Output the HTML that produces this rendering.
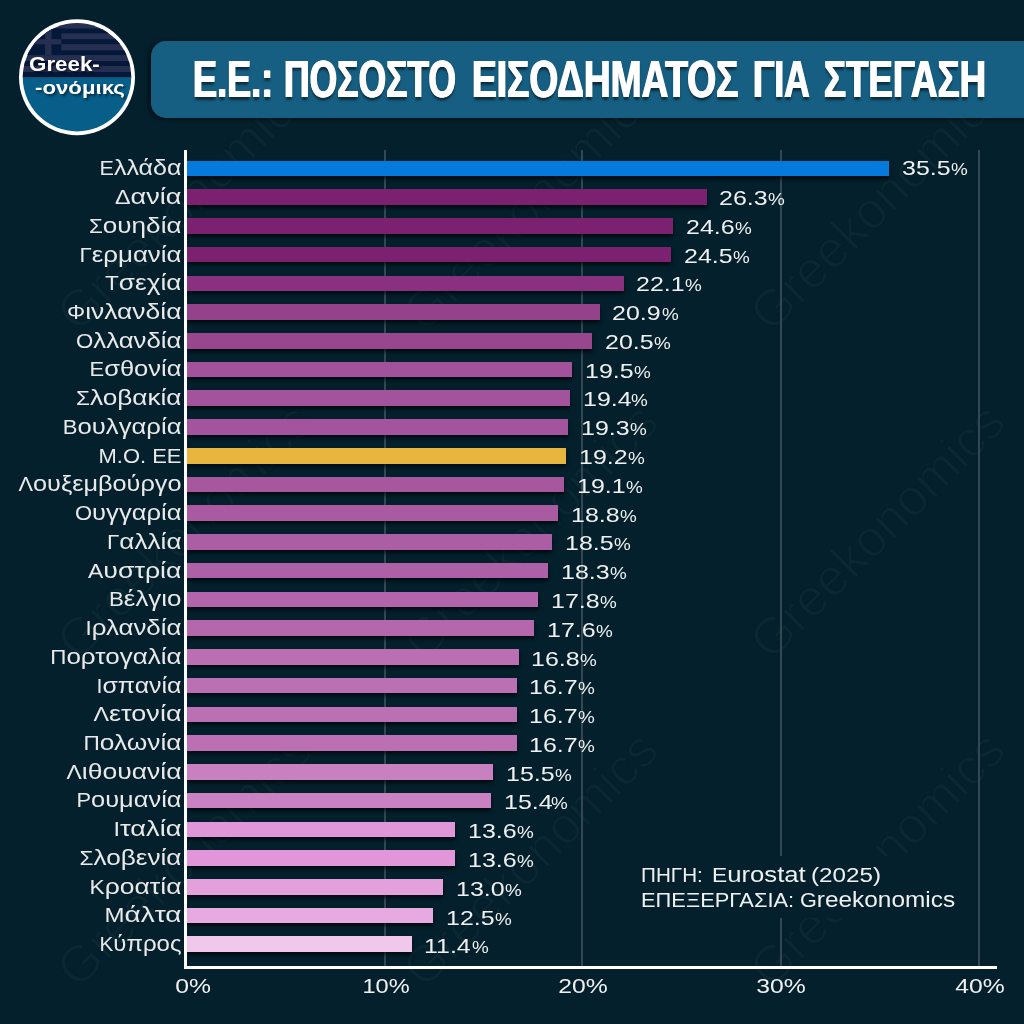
<!DOCTYPE html>
<html><head><meta charset="utf-8"><title>chart</title>
<style>
html,body{margin:0;padding:0;}
body{width:1024px;height:1024px;overflow:hidden;position:relative;background:#03202c;font-family:"Liberation Sans",sans-serif;color:#f2f2f2;}
#w{position:absolute;left:0;top:0;width:1024px;height:1024px;overflow:hidden;will-change:transform;}
.wm{position:absolute;width:400px;height:60px;line-height:60px;text-align:center;font-size:52px;color:rgba(255,255,255,0.032);-webkit-text-stroke:1.2px #03202c;transform:rotate(-45deg);white-space:nowrap;}
.titlebox{position:absolute;left:151px;top:41px;width:880px;height:77px;background:#165f82;border-radius:15px 0 0 15px;box-shadow:-2px 1px 4px rgba(0,0,0,0.6);}
.tw{position:absolute;top:49.6px;height:60px;line-height:60px;font-size:51px;font-weight:bold;color:#fff;white-space:nowrap;transform-origin:0 50%;text-shadow:0.9px 0 0 #fff,-0.9px 0 0 #fff,0 3px 3px rgba(0,0,0,0.55);}
.logosvg{position:absolute;left:17px;top:17px;}
.t1,.t2{position:absolute;color:#fff;font-weight:bold;white-space:nowrap;text-shadow:1.5px 2px 2px rgba(0,0,0,0.5);transform-origin:0 50%;}
.t1{left:28.5px;top:51.5px;font-size:20.5px;line-height:24px;transform:scaleX(1.09);}
.t2{left:35px;top:75.7px;font-size:18px;line-height:24px;transform:scaleX(1.235);}
.yaxis{position:absolute;left:184px;top:150px;width:3px;height:819px;background:#fff;}
.xaxis{position:absolute;left:184px;top:966px;width:813px;height:3px;background:#fff;}
.grid{position:absolute;top:150px;width:2px;height:816px;background:#334852;}
.lab{position:absolute;left:0;width:181.5px;text-align:right;font-size:22.8px;line-height:30px;height:30px;white-space:nowrap;color:#e9e9e9;transform-origin:100% 50%;transform:scaleX(1.12);}
.lab b{font-weight:normal;font-size:19.6px;}
.bar{position:absolute;left:187px;height:15.6px;box-shadow:0 3px 4px rgba(0,0,0,0.65);}
.val,.pc{position:absolute;line-height:28px;height:28px;white-space:nowrap;color:#f0f0f0;transform-origin:0 50%;}
.val{font-size:20.8px;transform:scaleX(1.2);}
.pc{font-size:16px;transform:scaleX(1.18);padding-top:2px;}
.tick{position:absolute;top:973.5px;width:80px;text-align:center;font-size:20.6px;line-height:24px;color:#f0f0f0;transform:scaleX(1.2);}
.src{position:absolute;left:636px;top:856px;width:330px;height:62px;background:#03202c;}
.st b{font-weight:normal;font-size:19.5px;}
.st{position:absolute;font-size:22.0px;line-height:30px;height:30px;white-space:nowrap;color:#f0f0f0;transform-origin:0 50%;}
</style></head><body><div id="w">
<div class="wm" style="left:-16.5px;top:173px">Greekonomics</div><div class="wm" style="left:-16.5px;top:501px">Greekonomics</div><div class="wm" style="left:-16.5px;top:829px">Greekonomics</div><div class="wm" style="left:330px;top:173px">Greekonomics</div><div class="wm" style="left:330px;top:501px">Greekonomics</div><div class="wm" style="left:330px;top:829px">Greekonomics</div><div class="wm" style="left:676.5px;top:173px">Greekonomics</div><div class="wm" style="left:676.5px;top:501px">Greekonomics</div><div class="wm" style="left:676.5px;top:829px">Greekonomics</div>
<div class="titlebox"></div>
<div class="tw" style="left:192.9px;transform:scaleX(0.7074)">Ε.Ε.:</div><div class="tw" style="left:284.3px;transform:scaleX(0.6956)">ΠΟΣΟΣΤΟ</div><div class="tw" style="left:472.2px;transform:scaleX(0.7275)">ΕΙΣΟΔΗΜΑΤΟΣ</div><div class="tw" style="left:752.8px;transform:scaleX(0.6956)">ΓΙΑ</div><div class="tw" style="left:823.8px;transform:scaleX(0.7199)">ΣΤΕΓΑΣΗ</div>
<svg class="logosvg" width="120" height="120" viewBox="17 17 120 120">
<defs><clipPath id="cc"><circle cx="77" cy="77.2" r="54.2"/></clipPath></defs>
<circle cx="77" cy="77.2" r="58" fill="#ffffff"/>
<g clip-path="url(#cc)">
<rect x="17" y="17" width="120" height="60.4" fill="#262f50"/>
<rect x="17" y="77.4" width="120" height="60" fill="#065e89"/>
<rect x="17" y="28.5" width="120" height="4.8" fill="#04183a"/>
<rect x="17" y="39.2" width="120" height="4.9" fill="#04183a"/>
<rect x="17" y="50.4" width="120" height="4.7" fill="#04183a"/>
<rect x="17" y="61.1" width="120" height="4.8" fill="#04183a"/>
<rect x="17" y="72.1" width="120" height="5.4" fill="#04183a"/>
<rect x="17" y="28.5" width="44.3" height="26.6" fill="#04183a"/>
<rect x="45.1" y="28.5" width="6.4" height="26.6" fill="#262f50"/>
<rect x="17" y="39.2" width="44.3" height="5.1" fill="#262f50"/>
</g></svg>
<div class="t1">Greek-</div><div class="t2">-ονόμικς</div>
<div class="grid" style="left:383.5px"></div><div class="grid" style="left:581.3px"></div><div class="grid" style="left:779.8px"></div><div class="grid" style="left:977.8px"></div>
<div class="src"></div>
<div class="st" style="left:640.8px;top:860.2px;transform:scaleX(1.0581)"><b>ΠΗΓΗ:</b></div><div class="st" style="left:711.8px;top:860.2px;transform:scaleX(1.1671)"><b>E</b>urostat</div><div class="st" style="left:810.8px;top:860.2px;transform:scaleX(1.2435)"><b>(2025)</b></div><div class="st" style="left:640.8px;top:885.1px;transform:scaleX(1.1205)"><b>ΕΠΕΞΕΡΓΑΣΙΑ:</b></div><div class="st" style="left:799.8px;top:885.1px;transform:scaleX(1.1087)"><b>G</b>reekonomics</div>
<div class="lab" style="top:152.30px;transform:scaleX(1.0993)"><b>Ε</b>λλάδα</div><div class="bar" style="top:160.60px;width:701.8px;background:#047bdc"></div><div class="val" style="top:153.60px;left:901.5px">35.5</div><div class="pc" style="top:153.60px;left:950.6px">%</div>
<div class="lab" style="top:181.03px;transform:scaleX(1.1892)"><b>Δ</b>ανία</div><div class="bar" style="top:189.33px;width:519.6px;background:#7b216f"></div><div class="val" style="top:183.98px;left:719.3px">26.3</div><div class="pc" style="top:183.98px;left:768.4px">%</div>
<div class="lab" style="top:209.77px;transform:scaleX(1.1435)"><b>Σ</b>ουηδία</div><div class="bar" style="top:218.07px;width:486.0px;background:#7b216f"></div><div class="val" style="top:212.77px;left:685.7px">24.6</div><div class="pc" style="top:212.77px;left:734.8px">%</div>
<div class="lab" style="top:238.50px;transform:scaleX(1.1347)"><b>Γ</b>ερμανία</div><div class="bar" style="top:246.81px;width:484.0px;background:#7b216f"></div><div class="val" style="top:241.56px;left:683.7px">24.5</div><div class="pc" style="top:241.56px;left:732.8px">%</div>
<div class="lab" style="top:267.24px;transform:scaleX(1.1517)"><b>Τ</b>σεχία</div><div class="bar" style="top:275.54px;width:436.5px;background:#89307e"></div><div class="val" style="top:270.34px;left:636.2px">22.1</div><div class="pc" style="top:270.34px;left:685.3px">%</div>
<div class="lab" style="top:295.97px;transform:scaleX(1.1604)"><b>Φ</b>ινλανδία</div><div class="bar" style="top:304.27px;width:412.7px;background:#94428a"></div><div class="val" style="top:299.12px;left:612.4px">20.9</div><div class="pc" style="top:299.12px;left:661.5px">%</div>
<div class="lab" style="top:324.71px;transform:scaleX(1.1317)"><b>Ο</b>λλανδία</div><div class="bar" style="top:333.01px;width:404.8px;background:#98478f"></div><div class="val" style="top:327.91px;left:604.5px">20.5</div><div class="pc" style="top:327.91px;left:653.6px">%</div>
<div class="lab" style="top:353.44px;transform:scaleX(1.1198)"><b>Ε</b>σθονία</div><div class="bar" style="top:361.75px;width:385.0px;background:#a2529a"></div><div class="val" style="top:356.69px;left:584.7px">19.5</div><div class="pc" style="top:356.69px;left:633.8px">%</div>
<div class="lab" style="top:382.18px;transform:scaleX(1.1493)"><b>Σ</b>λοβακία</div><div class="bar" style="top:390.48px;width:383.0px;background:#a3539b"></div><div class="val" style="top:385.48px;left:582.7px">19.4</div><div class="pc" style="top:385.48px;left:630.5px">%</div>
<div class="lab" style="top:410.92px;transform:scaleX(1.1264)"><b>Β</b>ουλγαρία</div><div class="bar" style="top:419.22px;width:381.0px;background:#a4549c"></div><div class="val" style="top:414.27px;left:580.7px">19.3</div><div class="pc" style="top:414.27px;left:629.8px">%</div>
<div class="lab" style="top:439.65px;transform:scaleX(1.1209)"><b>Μ.Ο. ΕΕ</b></div><div class="bar" style="top:447.95px;width:379.1px;background:#e8b53e"></div><div class="val" style="top:443.05px;left:578.8px">19.2</div><div class="pc" style="top:443.05px;left:627.9px">%</div>
<div class="lab" style="top:468.38px;transform:scaleX(1.1084)"><b>Λ</b>ουξεμβούργο</div><div class="bar" style="top:476.68px;width:377.1px;background:#a6579e"></div><div class="val" style="top:471.83px;left:576.8px">19.1</div><div class="pc" style="top:471.83px;left:625.9px">%</div>
<div class="lab" style="top:497.12px;transform:scaleX(1.1222)"><b>Ο</b>υγγαρία</div><div class="bar" style="top:505.42px;width:371.1px;background:#a95aa1"></div><div class="val" style="top:500.62px;left:570.8px">18.8</div><div class="pc" style="top:500.62px;left:619.9px">%</div>
<div class="lab" style="top:525.86px;transform:scaleX(1.1456)"><b>Γ</b>αλλία</div><div class="bar" style="top:534.15px;width:365.2px;background:#ac5ea4"></div><div class="val" style="top:529.40px;left:564.9px">18.5</div><div class="pc" style="top:529.40px;left:614.0px">%</div>
<div class="lab" style="top:554.59px;transform:scaleX(1.1710)"><b>Α</b>υστρία</div><div class="bar" style="top:562.89px;width:361.2px;background:#ae60a6"></div><div class="val" style="top:558.19px;left:560.9px">18.3</div><div class="pc" style="top:558.19px;left:610.0px">%</div>
<div class="lab" style="top:583.33px;transform:scaleX(1.1367)"><b>Β</b>έλγιο</div><div class="bar" style="top:591.62px;width:351.3px;background:#b265aa"></div><div class="val" style="top:586.98px;left:551.0px">17.8</div><div class="pc" style="top:586.98px;left:600.1px">%</div>
<div class="lab" style="top:612.06px;transform:scaleX(1.1353)"><b>Ι</b>ρλανδία</div><div class="bar" style="top:620.36px;width:347.4px;background:#b467ac"></div><div class="val" style="top:615.76px;left:547.1px">17.6</div><div class="pc" style="top:615.76px;left:596.2px">%</div>
<div class="lab" style="top:640.80px;transform:scaleX(1.1407)"><b>Π</b>ορτογαλία</div><div class="bar" style="top:649.10px;width:331.5px;background:#bb6fb3"></div><div class="val" style="top:644.55px;left:531.2px">16.8</div><div class="pc" style="top:644.55px;left:580.3px">%</div>
<div class="lab" style="top:669.53px;transform:scaleX(1.0930)"><b>Ι</b>σπανία</div><div class="bar" style="top:677.83px;width:329.6px;background:#bc70b4"></div><div class="val" style="top:673.33px;left:529.3px">16.7</div><div class="pc" style="top:673.33px;left:578.4px">%</div>
<div class="lab" style="top:698.27px;transform:scaleX(1.1849)"><b>Λ</b>ετονία</div><div class="bar" style="top:706.57px;width:329.6px;background:#bc70b4"></div><div class="val" style="top:702.12px;left:529.3px">16.7</div><div class="pc" style="top:702.12px;left:578.4px">%</div>
<div class="lab" style="top:727.00px;transform:scaleX(1.1542)"><b>Π</b>ολωνία</div><div class="bar" style="top:735.30px;width:329.6px;background:#bc70b4"></div><div class="val" style="top:730.90px;left:529.3px">16.7</div><div class="pc" style="top:730.90px;left:578.4px">%</div>
<div class="lab" style="top:755.74px;transform:scaleX(1.1638)"><b>Λ</b>ιθουανία</div><div class="bar" style="top:764.03px;width:305.8px;background:#c880c0"></div><div class="val" style="top:759.68px;left:505.5px">15.5</div><div class="pc" style="top:759.68px;left:554.6px">%</div>
<div class="lab" style="top:784.47px;transform:scaleX(1.1148)"><b>Ρ</b>ουμανία</div><div class="bar" style="top:792.77px;width:303.8px;background:#c981c1"></div><div class="val" style="top:788.47px;left:503.5px">15.4</div><div class="pc" style="top:788.47px;left:551.3px">%</div>
<div class="lab" style="top:813.21px;transform:scaleX(1.1936)"><b>Ι</b>ταλία</div><div class="bar" style="top:821.50px;width:268.2px;background:#e096d8"></div><div class="val" style="top:817.25px;left:467.9px">13.6</div><div class="pc" style="top:817.25px;left:517.0px">%</div>
<div class="lab" style="top:841.94px;transform:scaleX(1.1489)"><b>Σ</b>λοβενία</div><div class="bar" style="top:850.24px;width:268.2px;background:#e096d8"></div><div class="val" style="top:846.04px;left:467.9px">13.6</div><div class="pc" style="top:846.04px;left:517.0px">%</div>
<div class="lab" style="top:870.68px;transform:scaleX(1.1623)"><b>Κ</b>ροατία</div><div class="bar" style="top:878.98px;width:256.3px;background:#e3a1dc"></div><div class="val" style="top:874.83px;left:456.0px">13.0</div><div class="pc" style="top:874.83px;left:505.1px">%</div>
<div class="lab" style="top:899.41px;transform:scaleX(1.2265)"><b>Μ</b>άλτα</div><div class="bar" style="top:907.71px;width:246.4px;background:#e6aae0"></div><div class="val" style="top:903.61px;left:446.1px">12.5</div><div class="pc" style="top:903.61px;left:495.2px">%</div>
<div class="lab" style="top:928.15px;transform:scaleX(1.0523)"><b>Κ</b>ύπρος</div><div class="bar" style="top:936.45px;width:224.6px;background:#f0c8ec"></div><div class="val" style="top:932.40px;left:424.3px">11.4</div><div class="pc" style="top:932.40px;left:472.1px">%</div>
<div class="yaxis"></div><div class="xaxis"></div>
<div class="tick" style="left:153.0px;transform:scaleX(1.2)">0%</div><div class="tick" style="left:346.0px;transform:scaleX(1.145)">10%</div><div class="tick" style="left:542.8px;transform:scaleX(1.2)">20%</div><div class="tick" style="left:740.8px;transform:scaleX(1.2)">30%</div><div class="tick" style="left:939.8px;transform:scaleX(1.2)">40%</div>
</div></body></html>
